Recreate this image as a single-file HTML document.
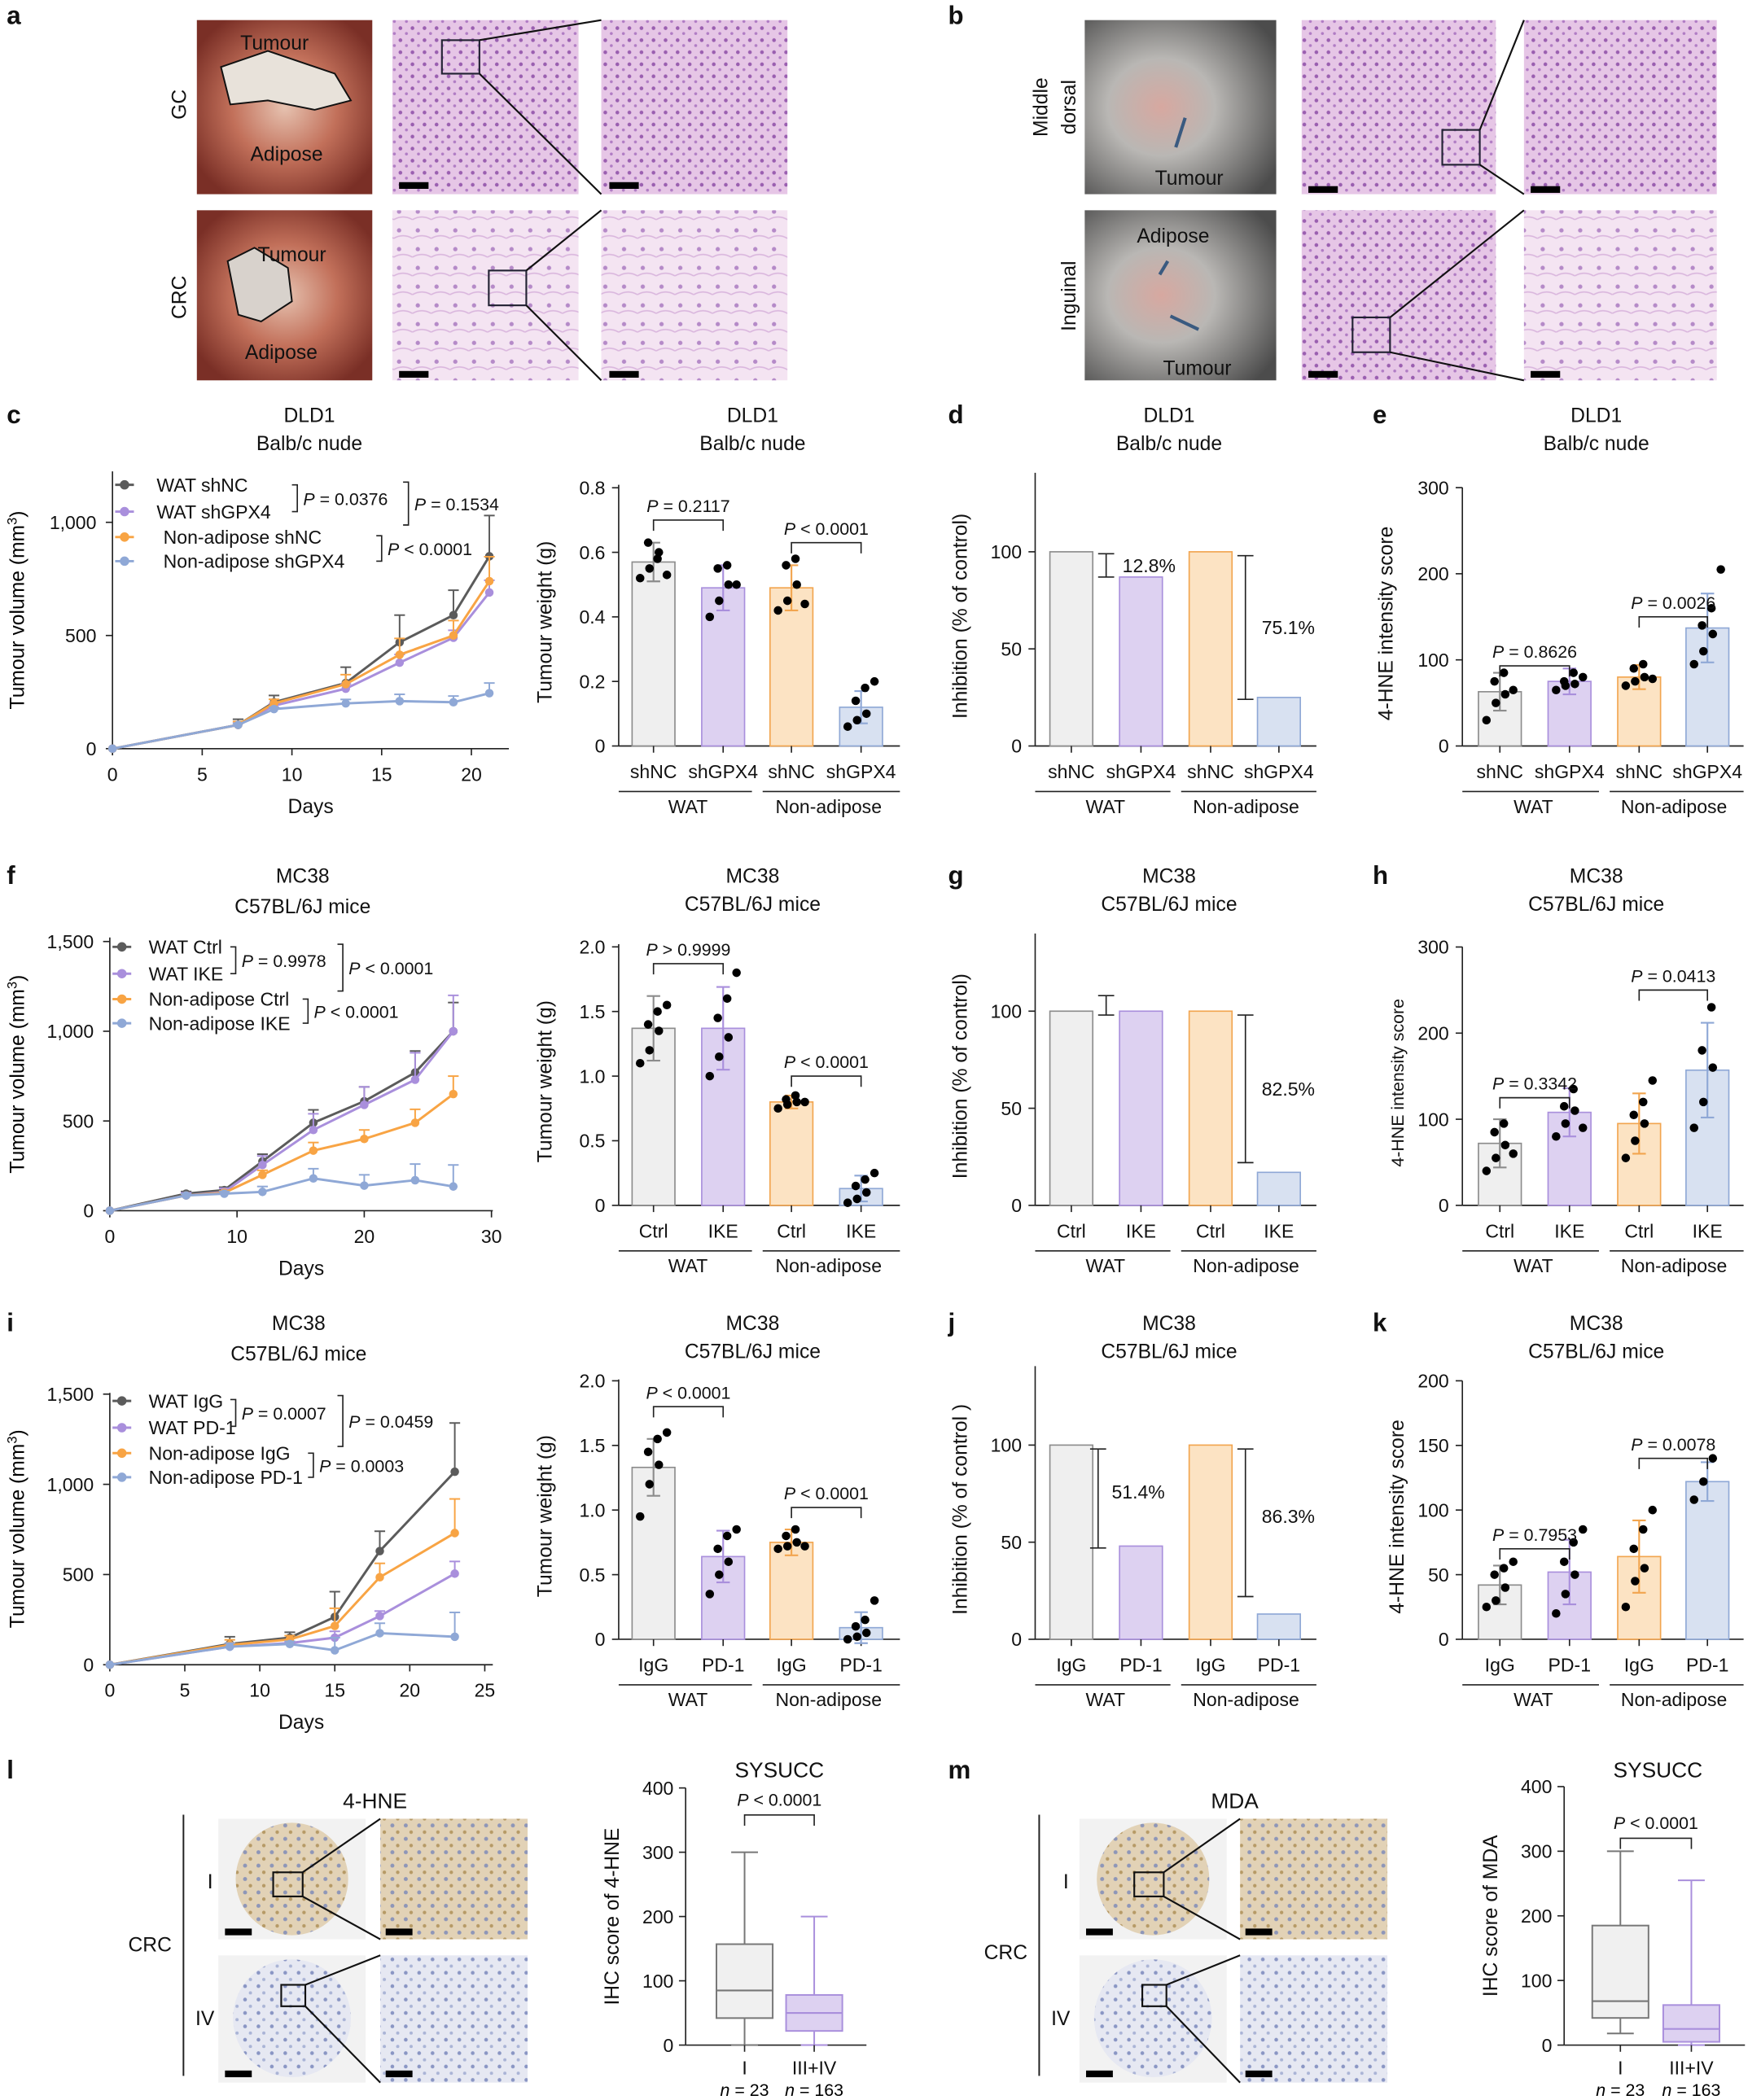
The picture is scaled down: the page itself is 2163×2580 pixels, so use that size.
<!DOCTYPE html>
<html><head><meta charset="utf-8"><style>
html,body{margin:0;padding:0;background:#fff}
svg{display:block;font-family:"Liberation Sans",Arial,sans-serif}
</style></head><body>
<svg id="fig" xmlns="http://www.w3.org/2000/svg" width="2163" height="2580" viewBox="0 0 1315 1568" preserveAspectRatio="none">
<defs>
<pattern id="he" width="9" height="9" patternUnits="userSpaceOnUse"><rect width="9" height="9" fill="#e6c6e6"/><circle cx="2" cy="3" r="1.4" fill="#9a5fb0"/><circle cx="6.5" cy="7" r="1.1" fill="#b07cc4"/></pattern>
<pattern id="he2" width="14" height="14" patternUnits="userSpaceOnUse"><rect width="14" height="14" fill="#f4e4f2"/><circle cx="4" cy="4" r="1.6" fill="#b58ac8"/><path d="M0 10 Q7 6 14 10" stroke="#d9b5dd" fill="none"/></pattern>
<pattern id="ihc" width="10" height="10" patternUnits="userSpaceOnUse"><rect width="10" height="10" fill="#e2d2b6"/><circle cx="3" cy="3" r="1.5" fill="#8e96b8"/><circle cx="7" cy="8" r="1.3" fill="#b69a66"/></pattern>
<pattern id="ihcb" width="10" height="10" patternUnits="userSpaceOnUse"><rect width="10" height="10" fill="#e6e8f2"/><circle cx="3" cy="3" r="1.4" fill="#8a96c4"/><circle cx="7" cy="8" r="1.2" fill="#aab4d6"/></pattern>
<radialGradient id="red" cx="50%" cy="50%" r="60%"><stop offset="0" stop-color="#e6c2b0"/><stop offset="0.5" stop-color="#c2705a"/><stop offset="1" stop-color="#7a2f26"/></radialGradient>
<radialGradient id="grey" cx="40%" cy="50%" r="70%"><stop offset="0" stop-color="#d7a8a0"/><stop offset="0.4" stop-color="#b9b7b4"/><stop offset="1" stop-color="#4c4c4c"/></radialGradient>
</defs>
<g id="root"></g>
</svg>
<script>
// ---------- data ----------
const cDays=[0,7,9,13,16,19,21];
const cWatShNC=[0,105,205,290,470,590,850];
const cWatShGPX4=[0,105,190,265,380,490,690];
const cNaShNC=[0,105,200,285,415,500,740];
const cNaShGPX4=[0,105,175,200,210,205,245];
const cErr=[0,25,30,70,120,110,180];
const fDays=[0,6,9,12,16,20,24,27];
const fWatCtrl=[0,95,115,275,490,610,770,1000];
const fWatIKE=[0,85,105,255,450,590,730,1000];
const fNaCtrl=[0,85,100,200,335,400,490,650];
const fNaIKE=[0,85,95,105,180,140,170,135];
const fErr=[0,15,20,50,90,100,150,200];
const iDays=[0,8,12,15,18,23];
const iWatIgG=[0,115,150,265,630,1070];
const iWatPD1=[0,100,120,150,270,505];
const iNaIgG=[0,110,140,215,485,730];
const iNaPD1=[0,100,115,80,175,155];
const iErr=[0,40,30,140,110,270];
const cBarVals=[0.57,0.49,0.49,0.12];
const cBarErr=[0.06,0.07,0.07,0.05];
const cBarDots=[[0.52,0.55,0.6,0.63,0.58,0.53],[0.4,0.45,0.5,0.55,0.56,0.5],[0.42,0.45,0.5,0.56,0.58,0.44],[0.06,0.08,0.1,0.14,0.18,0.2]];
const dVals=[100,87,100,25];
const eVals=[63,75,80,137];
const eErr=[22,15,14,40];
const eDots=[[30,50,60,75,85,65],[65,70,72,75,85,80],[70,75,80,90,95,78],[95,110,130,140,160,205]];
const fBarVals=[1.37,1.37,0.8,0.13];
const fBarErr=[0.25,0.32,0.05,0.1];
const fBarDots=[[1.1,1.2,1.35,1.4,1.5,1.55],[1.0,1.15,1.3,1.45,1.6,1.8],[0.75,0.78,0.8,0.82,0.85,0.8],[0.02,0.05,0.1,0.15,0.2,0.25]];
const gVals=[100,100,100,17];
const hVals=[72,108,95,157];
const hErr=[28,28,35,55];
const hDots=[[40,55,70,85,95,60],[80,95,110,115,135,90],[55,75,95,105,120,145],[90,120,160,180,230]];
const iBarVals=[1.33,0.64,0.75,0.09];
const iBarErr=[0.22,0.2,0.1,0.12];
const iBarDots=[[0.95,1.2,1.35,1.45,1.55,1.6],[0.35,0.5,0.6,0.7,0.8,0.85],[0.7,0.72,0.75,0.8,0.85,0.72],[0.0,0.02,0.05,0.1,0.15,0.3]];
const jVals=[100,48,100,13];
const kVals=[42,52,64,122];
const kErr=[15,25,28,15];
const kDots=[[25,30,40,50,55,60],[20,35,50,60,75,85],[25,45,55,70,85,100],[108,122,140]];
const lBoxI=[0,42,85,157,300];
const lBoxIII=[0,22,50,78,200];
const mBoxI=[18,42,68,185,300];
const mBoxIII=[0,5,25,62,255];
const catsGPX=['shNC','shGPX4','shNC','shGPX4'];
const catsIKE=['Ctrl','IKE','Ctrl','IKE'];
const catsPD=['IgG','PD-1','IgG','PD-1'];
const groups=['WAT','Non-adipose'];
// ---------- helpers ----------
const NS='http://www.w3.org/2000/svg';
const root=document.getElementById('root');
const COL={gray:'#5b5b5b',purple:'#a98fdc',orange:'#f8a444',blue:'#8fa8d6'};
const FILL=['#efefef','#ddd1f1','#fce3c3','#d8e1f1'];
const STROKE=['#8c8c8c','#a98fdc','#f2a54f','#8fa8d6'];
function el(tag,a,p){const e=document.createElementNS(NS,tag);for(const k in a)e.setAttribute(k,a[k]);(p||root).appendChild(e);return e;}
function nm(e,n,i){


return e;}
function tx(x,y,s,opt,p){opt=opt||{};const e=el('text',{x:x,y:y,'font-size':opt.fs||14,'text-anchor':opt.a||'middle',fill:opt.c||'#111','font-weight':opt.fw||'normal','font-style':opt.it?'italic':'normal'},p);if(opt.rot)e.setAttribute('transform','rotate(-90 '+x+' '+y+')');e.textContent=s;return e;}
function ln(x1,y1,x2,y2,c,w,p){return el('line',{x1:x1,y1:y1,x2:x2,y2:y2,stroke:c||'#222','stroke-width':w||1},p);}
function pv(x,y,str,p){const t=el('text',{x:x,y:y,'font-size':13,'text-anchor':'middle',fill:'#111'},p);const a=document.createElementNS(NS,'tspan');a.setAttribute('font-style','italic');a.textContent='P';t.appendChild(a);t.appendChild(document.createTextNode(str));return t;}
// ---------- panel letters ----------
[['a',5,18],['b',708,18],['c',5,316],['d',708,316],['e',1025,316],['f',5,660],['g',708,660],['h',1025,660],['i',5,994],['j',708,994],['k',1025,994],['l',5,1328],['m',708,1328]].forEach(d=>{const t=tx(d[1],d[2],d[0],{fs:19,fw:'bold',a:'start'});nm(t,'panel-label-'+d[0]);});
// ---------- images ----------
function img(x,y,w,h,fill,name){const r=el('rect',{x:x,y:y,width:w,height:h,fill:fill});nm(r,name);return r;}
img(147,15,131,130,'url(#red)','gc-photo');img(147,157,131,127,'url(#red)','crc-photo');
el('path',{d:'M165 50 L200 38 L250 55 L262 75 L235 82 L200 75 L172 78 Z',fill:'#e8e2da',stroke:'#111','stroke-width':1.2});
el('path',{d:'M170 195 L190 185 L215 200 L218 225 L195 240 L178 235 Z',fill:'#d8d2cc',stroke:'#111','stroke-width':1.2});
tx(205,37,'Tumour',{fs:15});tx(214,120,'Adipose',{fs:15});tx(218,195,'Tumour',{fs:15});tx(210,268,'Adipose',{fs:15});
tx(139,78,'GC',{fs:15,rot:1});tx(139,222,'CRC',{fs:15,rot:1});
img(293,15,139,130,'url(#he)','gc-he-low');img(449,15,139,130,'url(#he)','gc-he-high');
img(293,157,139,127,'url(#he2)','crc-he-low');img(449,157,139,127,'url(#he2)','crc-he-high');
el('rect',{x:330,y:30,width:28,height:25,fill:'none',stroke:'#223',"stroke-width":1.3});ln(358,30,449,15,'#111',1.3);ln(358,55,449,145,'#111',1.3);
el('rect',{x:365,y:202,width:28,height:26,fill:'none',stroke:'#223',"stroke-width":1.3});ln(393,202,449,157,'#111',1.3);ln(393,228,449,284,'#111',1.3);
[[298,136],[455,136],[298,277],[455,277]].forEach(p=>el('rect',{x:p[0],y:p[1],width:22,height:5,fill:'#000'}));
img(810,15,143,130,'url(#grey)','dorsal-photo');img(810,157,143,127,'url(#grey)','inguinal-photo');
tx(888,138,'Tumour',{fs:15});tx(876,181,'Adipose',{fs:15});tx(894,280,'Tumour',{fs:15});
ln(885,88,878,110,'#3a5a80',2.5);ln(872,195,866,205,'#3a5a80',2.5);ln(874,236,895,246,'#3a5a80',2.5);
tx(782,80,'Middle',{fs:15,rot:1});tx(803,80,'dorsal',{fs:15,rot:1});tx(803,221,'Inguinal',{fs:15,rot:1});
img(972,15,145,130,'url(#he)','dorsal-he-low');img(1138,15,144,130,'url(#he)','dorsal-he-high');
img(972,157,145,127,'url(#he)','inguinal-he-low');img(1138,157,144,127,'url(#he2)','inguinal-he-high');
el('rect',{x:1077,y:97,width:28,height:26,fill:'none',stroke:'#223','stroke-width':1.3});ln(1105,97,1138,15,'#111',1.3);ln(1105,123,1138,145,'#111',1.3);
el('rect',{x:1010,y:237,width:28,height:26,fill:'none',stroke:'#223','stroke-width':1.3});ln(1038,237,1138,157,'#111',1.3);ln(1038,263,1138,284,'#111',1.3);
[[977,139],[1143,139],[977,277],[1143,277]].forEach(p=>el('rect',{x:p[0],y:p[1],width:22,height:5,fill:'#000'}));
// ---------- line chart ----------
function lineChart(cfg){
const g=el('g',{});nm(g,cfg.name);
const X=d=>cfg.ax+d*cfg.dx, Y=v=>cfg.y0-v*cfg.dy;
ln(cfg.ax,cfg.y0,cfg.ax,cfg.top,'#222',1,g);ln(cfg.ax,cfg.y0,cfg.right,cfg.y0,'#222',1,g);
cfg.xt.forEach(t=>{ln(X(t),cfg.y0,X(t),cfg.y0+5,'#222',1,g);tx(X(t),cfg.y0+24,String(t),{fs:14},g);});
cfg.yt.forEach((t,i)=>{ln(cfg.ax-5,Y(t),cfg.ax,Y(t),'#222',1,g);tx(cfg.ax-12,Y(t)+5,cfg.ytl[i],{fs:14,a:'end'},g);});
tx((cfg.ax+cfg.right)/2,cfg.y0+48,'Days',{fs:15},g);
const yl=el('text',{x:cfg.ylx,y:(cfg.y0+cfg.top)/2,'font-size':15,'text-anchor':'middle',transform:'rotate(-90 '+cfg.ylx+' '+((cfg.y0+cfg.top)/2)+')'},g);
yl.textContent='Tumour volume (mm';const sup=document.createElementNS(NS,'tspan');sup.setAttribute('baseline-shift','super');sup.setAttribute('font-size','10');sup.textContent='3';yl.appendChild(sup);yl.appendChild(document.createTextNode(')'));
cfg.series.forEach((s,si)=>{
s.vals.forEach((v,i)=>{if(i>0){const e=cfg.err[i]*s.ef;const eb=ln(X(cfg.days[i]),Y(v),X(cfg.days[i]),Y(v+e),s.c,1.2,g);nm(eb,'error-bar');ln(X(cfg.days[i])-4,Y(v+e),X(cfg.days[i])+4,Y(v+e),s.c,1.2,g);}});
const pl=el('polyline',{points:s.vals.map((v,i)=>X(cfg.days[i])+','+Y(v)).join(' '),fill:'none',stroke:s.c,'stroke-width':1.8},g);nm(pl,'line-'+s.key);
s.vals.forEach((v,i)=>{const c=el('circle',{cx:X(cfg.days[i]),cy:Y(v),r:3.2,fill:s.c},g);nm(c,'point-'+s.key);});
const ly=cfg.legY[si];ln(cfg.legX-7,ly,cfg.legX+7,ly,s.c,1.8,g);el('circle',{cx:cfg.legX,cy:ly,r:3.5,fill:s.c},g);
const lt=tx(cfg.legX+cfg.legOff[si],ly+5,s.label,{fs:14,a:'start'},g);nm(lt,'legend-entry');
});
cfg.br.forEach(b=>{el('path',{d:'M'+(b[0]-4)+' '+b[1]+' H'+b[0]+' V'+b[2]+' H'+(b[0]-4),fill:'none',stroke:'#222'},g);pv(b[0]+36,(b[1]+b[2])/2+5,b[3],g);});
}
lineChart({name:'c-tumour-volume-chart',ax:84,y0:559,top:352,right:380,dx:13.4,dy:0.169,days:cDays,xt:[0,5,10,15,20],yt:[0,500,1000],ytl:['0','500','1,000'],ylx:18,err:cErr,
series:[{key:'wat-shnc',label:'WAT shNC',vals:cWatShNC,c:COL.gray,ef:1},{key:'wat-shgpx4',label:'WAT shGPX4',vals:cWatShGPX4,c:COL.purple,ef:0.3},{key:'na-shnc',label:'Non-adipose shNC',vals:cNaShNC,c:COL.orange,ef:0.6},{key:'na-shgpx4',label:'Non-adipose shGPX4',vals:cNaShGPX4,c:COL.blue,ef:0.25}],
legX:93,legY:[362,382,401,419],legOff:[24,24,29,29],br:[[222,362,382,' = 0.0376'],[305,360,392,' = 0.1534'],[285,400,419,' < 0.0001']]});
tx(231,315,'DLD1',{fs:15});tx(231,336,'Balb/c nude',{fs:15});
lineChart({name:'f-tumour-volume-chart',ax:82,y0:904,top:700,right:368,dx:9.5,dy:0.134,days:fDays,xt:[0,10,20,30],yt:[0,500,1000,1500],ytl:['0','500','1,000','1,500'],ylx:18,err:fErr,
series:[{key:'wat-ctrl',label:'WAT Ctrl',vals:fWatCtrl,c:COL.gray,ef:0.8},{key:'wat-ike',label:'WAT IKE',vals:fWatIKE,c:COL.purple,ef:1},{key:'na-ctrl',label:'Non-adipose Ctrl',vals:fNaCtrl,c:COL.orange,ef:0.5},{key:'na-ike',label:'Non-adipose IKE',vals:fNaIKE,c:COL.blue,ef:0.6}],
legX:91,legY:[707,727,746,764],legOff:[20,20,20,20],br:[[176,707,727,' = 0.9978'],[256,705,740,' < 0.0001'],[230,746,764,' < 0.0001']]});
tx(226,659,'MC38',{fs:15});tx(226,682,'C57BL/6J mice',{fs:15});
lineChart({name:'i-tumour-volume-chart',ax:82,y0:1243,top:1040,right:368,dx:11.2,dy:0.1347,days:iDays,xt:[0,5,10,15,20,25],yt:[0,500,1000,1500],ytl:['0','500','1,000','1,500'],ylx:18,err:iErr,
series:[{key:'wat-igg',label:'WAT IgG',vals:iWatIgG,c:COL.gray,ef:1},{key:'wat-pd1',label:'WAT PD-1',vals:iWatPD1,c:COL.purple,ef:0.25},{key:'na-igg',label:'Non-adipose IgG',vals:iNaIgG,c:COL.orange,ef:0.7},{key:'na-pd1',label:'Non-adipose PD-1',vals:iNaPD1,c:COL.blue,ef:0.5}],
legX:91,legY:[1046,1066,1085,1103],legOff:[20,20,20,20],br:[[176,1045,1065,' = 0.0007'],[256,1042,1080,' = 0.0459'],[234,1085,1103,' = 0.0003']]});
tx(223,993,'MC38',{fs:15});tx(223,1016,'C57BL/6J mice',{fs:15});
// ---------- bar chart ----------
function barChart(cfg){
const g=el('g',{});nm(g,cfg.name);
const Y=v=>cfg.y0-v*cfg.k;const xs=cfg.x0.map(o=>o);
const right=cfg.ax+210;
ln(cfg.ax,cfg.y0,cfg.ax,cfg.top,'#222',1,g);ln(cfg.ax,cfg.y0,right,cfg.y0,'#222',1,g);
cfg.yt.forEach((t,i)=>{ln(cfg.ax-5,Y(t),cfg.ax,Y(t),'#222',1,g);tx(cfg.ax-10,Y(t)+5,cfg.ytl[i],{fs:14,a:'end'},g);});
cfg.vals.forEach((v,i)=>{
const b=el('rect',{x:xs[i]-16,y:Y(v),width:32,height:cfg.y0-Y(v),fill:FILL[i],stroke:STROKE[i],'stroke-width':1},g);nm(b,'bar-'+cfg.cats[i].toLowerCase()+'-'+(i<2?'wat':'non-adipose'));
ln(xs[i],cfg.y0,xs[i],cfg.y0+5,'#222',1,g);
tx(xs[i],cfg.y0+24,cfg.cats[i],{fs:14},g);
if(cfg.err){const e=cfg.err[i];ln(xs[i],Y(v-e),xs[i],Y(v+e),STROKE[i],1.3,g);ln(xs[i]-5,Y(v+e),xs[i]+5,Y(v+e),STROKE[i],1.3,g);ln(xs[i]-5,Y(v-e),xs[i]+5,Y(v-e),STROKE[i],1.3,g);}
if(cfg.dots){const d=cfg.dots[i];d.forEach((dv,j)=>{const off=(j%3-1)*7+(j>=3?3:-3);const c=el('circle',{cx:xs[i]+off,cy:Y(dv),r:3.2,fill:'#000'},g);nm(c,'data-point');});}
});
const mid=(xs[1]+xs[2])/2;
ln(cfg.ax,cfg.y0+34,mid-4,cfg.y0+34,'#222',1,g);ln(mid+4,cfg.y0+34,right,cfg.y0+34,'#222',1,g);
tx((cfg.ax+mid)/2,cfg.y0+50,groups[0],{fs:14},g);tx((mid+right)/2,cfg.y0+50,groups[1],{fs:14},g);
const cy=(cfg.y0+cfg.top)/2;tx(cfg.ylx,cy+5,cfg.yl,{fs:cfg.ylfs||15,rot:1},g);
tx(cfg.ax+100,cfg.t1y,cfg.t1,{fs:15},g);tx(cfg.ax+100,cfg.t1y+21,cfg.t2,{fs:15},g);
(cfg.br||[]).forEach(b=>{const a=xs[b[0]],c=xs[b[1]],yy=Y(b[2]);el('path',{d:'M'+a+' '+(yy+8)+' V'+yy+' H'+c+' V'+(yy+8),fill:'none',stroke:'#222'},g);pv((a+c)/2,yy-6,b[3],g);});
(cfg.inh||[]).forEach(h=>{const xx=h[0],ya=Y(h[1]),yb=Y(h[2]);ln(xx,ya,xx,yb,'#222',1,g);ln(xx-6,ya,xx+6,ya,'#222',1,g);ln(xx-6,yb,xx+6,yb,'#222',1,g);if(h[3])tx(h[4],(ya+yb)/2+h[5],h[3],{fs:14},g);});
}
const X4a=[488,540,591,643],X4b=[800,852,904,955],X4c=[1120,1172,1224,1275];
barChart({name:'c-tumour-weight-chart',ax:462,y0:557,top:362,k:241,x0:X4a,vals:cBarVals,err:cBarErr,dots:cBarDots,cats:catsGPX,yt:[0,0.2,0.4,0.6,0.8],ytl:['0','0.2','0.4','0.6','0.8'],ylx:412,yl:'Tumour weight (g)',t1:'DLD1',t2:'Balb/c nude',t1y:315,br:[[0,1,0.7,' = 0.2117'],[2,3,0.63,' < 0.0001']]});
barChart({name:'d-inhibition-chart',ax:773,y0:557,top:353,k:1.45,x0:X4b,vals:dVals,cats:catsGPX,yt:[0,50,100],ytl:['0','50','100'],ylx:722,yl:'Inhibition (% of control)',t1:'DLD1',t2:'Balb/c nude',t1y:315,inh:[[826,99,87,'12.8%',858,5],[930,98,24,'75.1%',962,5]]});
barChart({name:'e-4hne-score-chart',ax:1092,y0:557,top:364,k:0.643,x0:X4c,vals:eVals,err:eErr,dots:eDots,cats:catsGPX,yt:[0,100,200,300],ytl:['0','100','200','300'],ylx:1040,yl:'4-HNE intensity score',t1:'DLD1',t2:'Balb/c nude',t1y:315,br:[[0,1,93,' = 0.8626'],[2,3,150,' = 0.0026']]});
barChart({name:'f-tumour-weight-chart',ax:462,y0:900,top:705,k:96.5,x0:X4a,vals:fBarVals,err:fBarErr,dots:fBarDots,cats:catsIKE,yt:[0,0.5,1,1.5,2],ytl:['0','0.5','1.0','1.5','2.0'],ylx:412,yl:'Tumour weight (g)',t1:'MC38',t2:'C57BL/6J mice',t1y:659,br:[[0,1,1.87,' > 0.9999'],[2,3,1.0,' < 0.0001']]});
barChart({name:'g-inhibition-chart',ax:773,y0:900,top:697,k:1.45,x0:X4b,vals:gVals,cats:catsIKE,yt:[0,50,100],ytl:['0','50','100'],ylx:722,yl:'Inhibition (% of control)',t1:'MC38',t2:'C57BL/6J mice',t1y:659,inh:[[826,108,98,'',0,0],[930,98,22,'82.5%',962,5]]});
barChart({name:'h-4hne-score-chart',ax:1092,y0:900,top:707,k:0.643,x0:X4c,vals:hVals,err:hErr,dots:hDots,cats:catsIKE,yt:[0,100,200,300],ytl:['0','100','200','300'],ylx:1048,ylfs:13,yl:'4-HNE intensity score',t1:'MC38',t2:'C57BL/6J mice',t1y:659,br:[[0,1,125,' = 0.3342'],[2,3,250,' = 0.0413']]});
barChart({name:'i-tumour-weight-chart',ax:462,y0:1224,top:1030,k:96.5,x0:X4a,vals:iBarVals,err:iBarErr,dots:iBarDots,cats:catsPD,yt:[0,0.5,1,1.5,2],ytl:['0','0.5','1.0','1.5','2.0'],ylx:412,yl:'Tumour weight (g)',t1:'MC38',t2:'C57BL/6J mice',t1y:993,br:[[0,1,1.8,' < 0.0001'],[2,3,1.02,' < 0.0001']]});
barChart({name:'j-inhibition-chart',ax:773,y0:1224,top:1020,k:1.45,x0:X4b,vals:jVals,cats:catsPD,yt:[0,50,100],ytl:['0','50','100'],ylx:722,yl:'Inhibition (% of control )',t1:'MC38',t2:'C57BL/6J mice',t1y:993,inh:[[820,98,47,'51.4%',850,0],[930,98,22,'86.3%',962,0]]});
barChart({name:'k-4hne-score-chart',ax:1092,y0:1224,top:1031,k:0.965,x0:X4c,vals:kVals,err:kErr,dots:kDots,cats:catsPD,yt:[0,50,100,150,200],ytl:['0','50','100','150','200'],ylx:1048,yl:'4-HNE intensity score',t1:'MC38',t2:'C57BL/6J mice',t1y:993,br:[[0,1,70,' = 0.7953'],[2,3,140,' = 0.0078']]});
// ---------- IHC panels ----------
function ihc(cfg){
const g=el('g',{});nm(g,cfg.name);
ln(cfg.lx,1355,cfg.lx,1550,'#222',1.2,g);
tx(cfg.lx-25,cfg.crcY,'CRC',{fs:15},g);tx(cfg.lx+20,1410,'I',{fs:15},g);tx(cfg.lx+16,1512,'IV',{fs:15},g);
tx(cfg.tx,1350,cfg.title,{fs:16},g);
el('rect',{x:cfg.cx-55,y:1358,width:110,height:90,fill:'#f2f2f2'},g);
el('rect',{x:cfg.cx-55,y:1460,width:110,height:95,fill:'#f2f2f2'},g);
const c1=el('circle',{cx:cfg.cx,cy:1403,r:42,fill:'url(#ihc)'},g);nm(c1,'tma-core-stage-i');
const c2=el('circle',{cx:cfg.cx,cy:1507,r:44,fill:'url(#ihcb)'},g);nm(c2,'tma-core-stage-iv');
el('rect',{x:cfg.zx,y:1358,width:110,height:90,fill:'url(#ihc)'},g);
el('rect',{x:cfg.zx,y:1460,width:110,height:95,fill:'url(#ihcb)'},g);
el('rect',{x:cfg.cx-14,y:1398,width:22,height:18,fill:'none',stroke:'#111','stroke-width':1.3},g);ln(cfg.cx+8,1398,cfg.zx,1358,'#111',1.3,g);ln(cfg.cx+8,1416,cfg.zx,1448,'#111',1.3,g);
el('rect',{x:cfg.cx-8,y:1482,width:18,height:16,fill:'none',stroke:'#111','stroke-width':1.3},g);ln(cfg.cx+10,1482,cfg.zx,1460,'#111',1.3,g);ln(cfg.cx+10,1498,cfg.zx,1555,'#111',1.3,g);
[[cfg.cx-50,1440],[cfg.zx+4,1440],[cfg.cx-50,1546],[cfg.zx+4,1546]].forEach(p=>el('rect',{x:p[0],y:p[1],width:20,height:5,fill:'#000'},g));
}
ihc({name:'l-ihc-images',lx:137,crcY:1457,tx:280,title:'4-HNE',cx:218,zx:284});
ihc({name:'m-ihc-images',lx:776,crcY:1463,tx:922,title:'MDA',cx:861,zx:926});
// ---------- box plots ----------
function box(cfg){
const g=el('g',{});nm(g,cfg.name);
const Y=v=>cfg.y0-v*cfg.k;
ln(cfg.ax,cfg.y0,cfg.ax,Y(400),'#222',1,g);ln(cfg.ax,cfg.y0,cfg.ax+135,cfg.y0,'#222',1,g);
[0,100,200,300,400].forEach(t=>{ln(cfg.ax-5,Y(t),cfg.ax,Y(t),'#222',1,g);tx(cfg.ax-9,Y(t)+5,String(t),{fs:14,a:'end'},g);});
tx(cfg.ax-50,(cfg.y0+Y(400))/2,cfg.yl,{fs:15,rot:1},g);
tx(cfg.ax+70,1327,'SYSUCC',{fs:16},g);
[[cfg.b1,cfg.x1,'#f0f0f0','#777','I','n = 23'],[cfg.b2,cfg.x2,'#ddd1f1','#a98fdc','III+IV','n = 163']].forEach((d,i)=>{
const b=d[0],x=d[1];
ln(x,Y(b[0]),x,Y(b[4]),d[3],1.2,g);ln(x-10,Y(b[4]),x+10,Y(b[4]),d[3],1.2,g);ln(x-10,Y(b[0]),x+10,Y(b[0]),d[3],1.2,g);
const r=el('rect',{x:x-21,y:Y(b[3]),width:42,height:Y(b[1])-Y(b[3]),fill:d[2],stroke:d[3],'stroke-width':1.2},g);nm(r,'box-'+(i?'stage-iii-iv':'stage-i'));
ln(x-21,Y(b[2]),x+21,Y(b[2]),d[3],1.3,g);
ln(x,cfg.y0,x,cfg.y0+5,'#222',1,g);tx(x,cfg.y0+22,d[4],{fs:14},g);
const t=el('text',{x:x,y:cfg.y0+38,'font-size':13,'text-anchor':'middle'},g);const n=document.createElementNS(NS,'tspan');n.setAttribute('font-style','italic');n.textContent='n';t.appendChild(n);t.appendChild(document.createTextNode(d[5].slice(1)));
});
const yy=Y(cfg.pb);el('path',{d:'M'+cfg.x1+' '+(yy+8)+' V'+yy+' H'+cfg.x2+' V'+(yy+8),fill:'none',stroke:'#222'},g);pv((cfg.x1+cfg.x2)/2,yy-7,' < 0.0001',g);
}
box({name:'l-boxplot',ax:512,y0:1527,k:0.48,x1:556,x2:608,b1:lBoxI,b2:lBoxIII,yl:'IHC score of 4-HNE',pb:358});
box({name:'m-boxplot',ax:1168,y0:1527,k:0.4825,x1:1210,x2:1263,b1:mBoxI,b2:mBoxIII,yl:'IHC score of MDA',pb:320});
</script>
</body></html>
